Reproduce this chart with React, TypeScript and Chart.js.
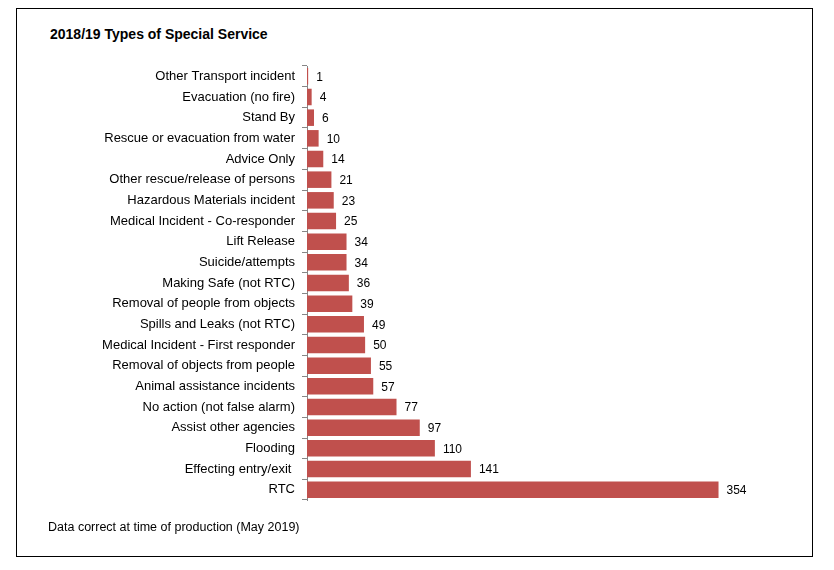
import { useEffect, useRef } from "react";
import { Chart, registerables, Plugin } from "chart.js";

Chart.register(...registerables);

const categories = [
	"Other Transport incident",
	"Evacuation (no fire)",
	"Stand By",
	"Rescue or evacuation from water",
	"Advice Only",
	"Other rescue/release of persons",
	"Hazardous Materials incident",
	"Medical Incident - Co-responder",
	"Lift Release",
	"Suicide/attempts",
	"Making Safe (not RTC)",
	"Removal of people from objects",
	"Spills and Leaks (not RTC)",
	"Medical Incident - First responder",
	"Removal of objects from people",
	"Animal assistance incidents",
	"No action (not false alarm)",
	"Assist other agencies",
	"Flooding",
	"Effecting entry/exit ",
	"RTC",
];

const counts = [1, 4, 6, 10, 14, 21, 23, 25, 34, 34, 36, 39, 49, 50, 55, 57, 77, 97, 110, 141, 354];

const FONT = "'Liberation Sans', Arial, sans-serif";

// draws the value next to the end of each bar
const valueLabels: Plugin<"bar"> = {
	id: "valueLabels",
	afterDatasetsDraw(chart) {
		const ctx = chart.ctx;
		const meta = chart.getDatasetMeta(0);
		ctx.save();
		ctx.font = `12px ${FONT}`;
		ctx.fillStyle = "#000";
		ctx.textAlign = "left";
		ctx.textBaseline = "middle";
		meta.data.forEach((bar, i) => {
			ctx.fillText(String(counts[i]), bar.x + 8, bar.y + 1);
		});
		ctx.restore();
	},
};

const App = () => {
	const canvasRef = useRef<HTMLCanvasElement | null>(null);

	useEffect(() => {
		if (!canvasRef.current) return;
		const chart = new Chart(canvasRef.current, {
			type: "bar",
			data: {
				labels: categories,
				datasets: [
					{
						data: counts,
						backgroundColor: "#C0504D",
						borderWidth: 0,
						barPercentage: 0.8,
						categoryPercentage: 1,
					},
				],
			},
			options: {
				indexAxis: "y",
				animation: false,
				responsive: false,
				layout: { padding: { top: 57, bottom: 56, left: 0, right: 40 } },
				plugins: {
					legend: { display: false },
					tooltip: { enabled: false },
				},
				scales: {
					x: { display: false, min: 0, max: 400 },
					y: {
						afterFit(scale) {
							scale.width = 290;
						},
						grid: {
							display: true,
							drawOnChartArea: false,
							drawTicks: true,
							tickLength: 5,
							color: "#868686",
						},
						border: { display: true, color: "#868686" },
						ticks: {
							padding: 7,
							color: "#000",
							font: { family: FONT, size: 13 },
							autoSkip: false,
						},
					},
				},
			},
			plugins: [valueLabels],
		});
		return () => {
			chart.destroy();
		};
	}, []);

	return (
		<div
			style={{
				position: "relative",
				marginLeft: 8,
				width: 797,
				height: 549,
				border: "1px solid #000",
				boxSizing: "border-box",
				background: "#fff",
			}}
		>
			<div
				style={{
					position: "absolute",
					left: 33,
					top: 17,
					fontFamily: FONT,
					fontWeight: "bold",
					fontSize: 14,
					color: "#000",
					whiteSpace: "nowrap",
				}}
			>
				2018/19 Types of Special Service
			</div>
			<canvas
				ref={canvasRef}
				width={795}
				height={547}
				style={{ position: "absolute", left: 0, top: 0 }}
			/>
			<div
				style={{
					position: "absolute",
					left: 31,
					top: 511,
					fontFamily: FONT,
					fontSize: 12.5,
					color: "#000",
					whiteSpace: "nowrap",
				}}
			>
				Data correct at time of production (May 2019)
			</div>
		</div>
	);
};

export default App;
